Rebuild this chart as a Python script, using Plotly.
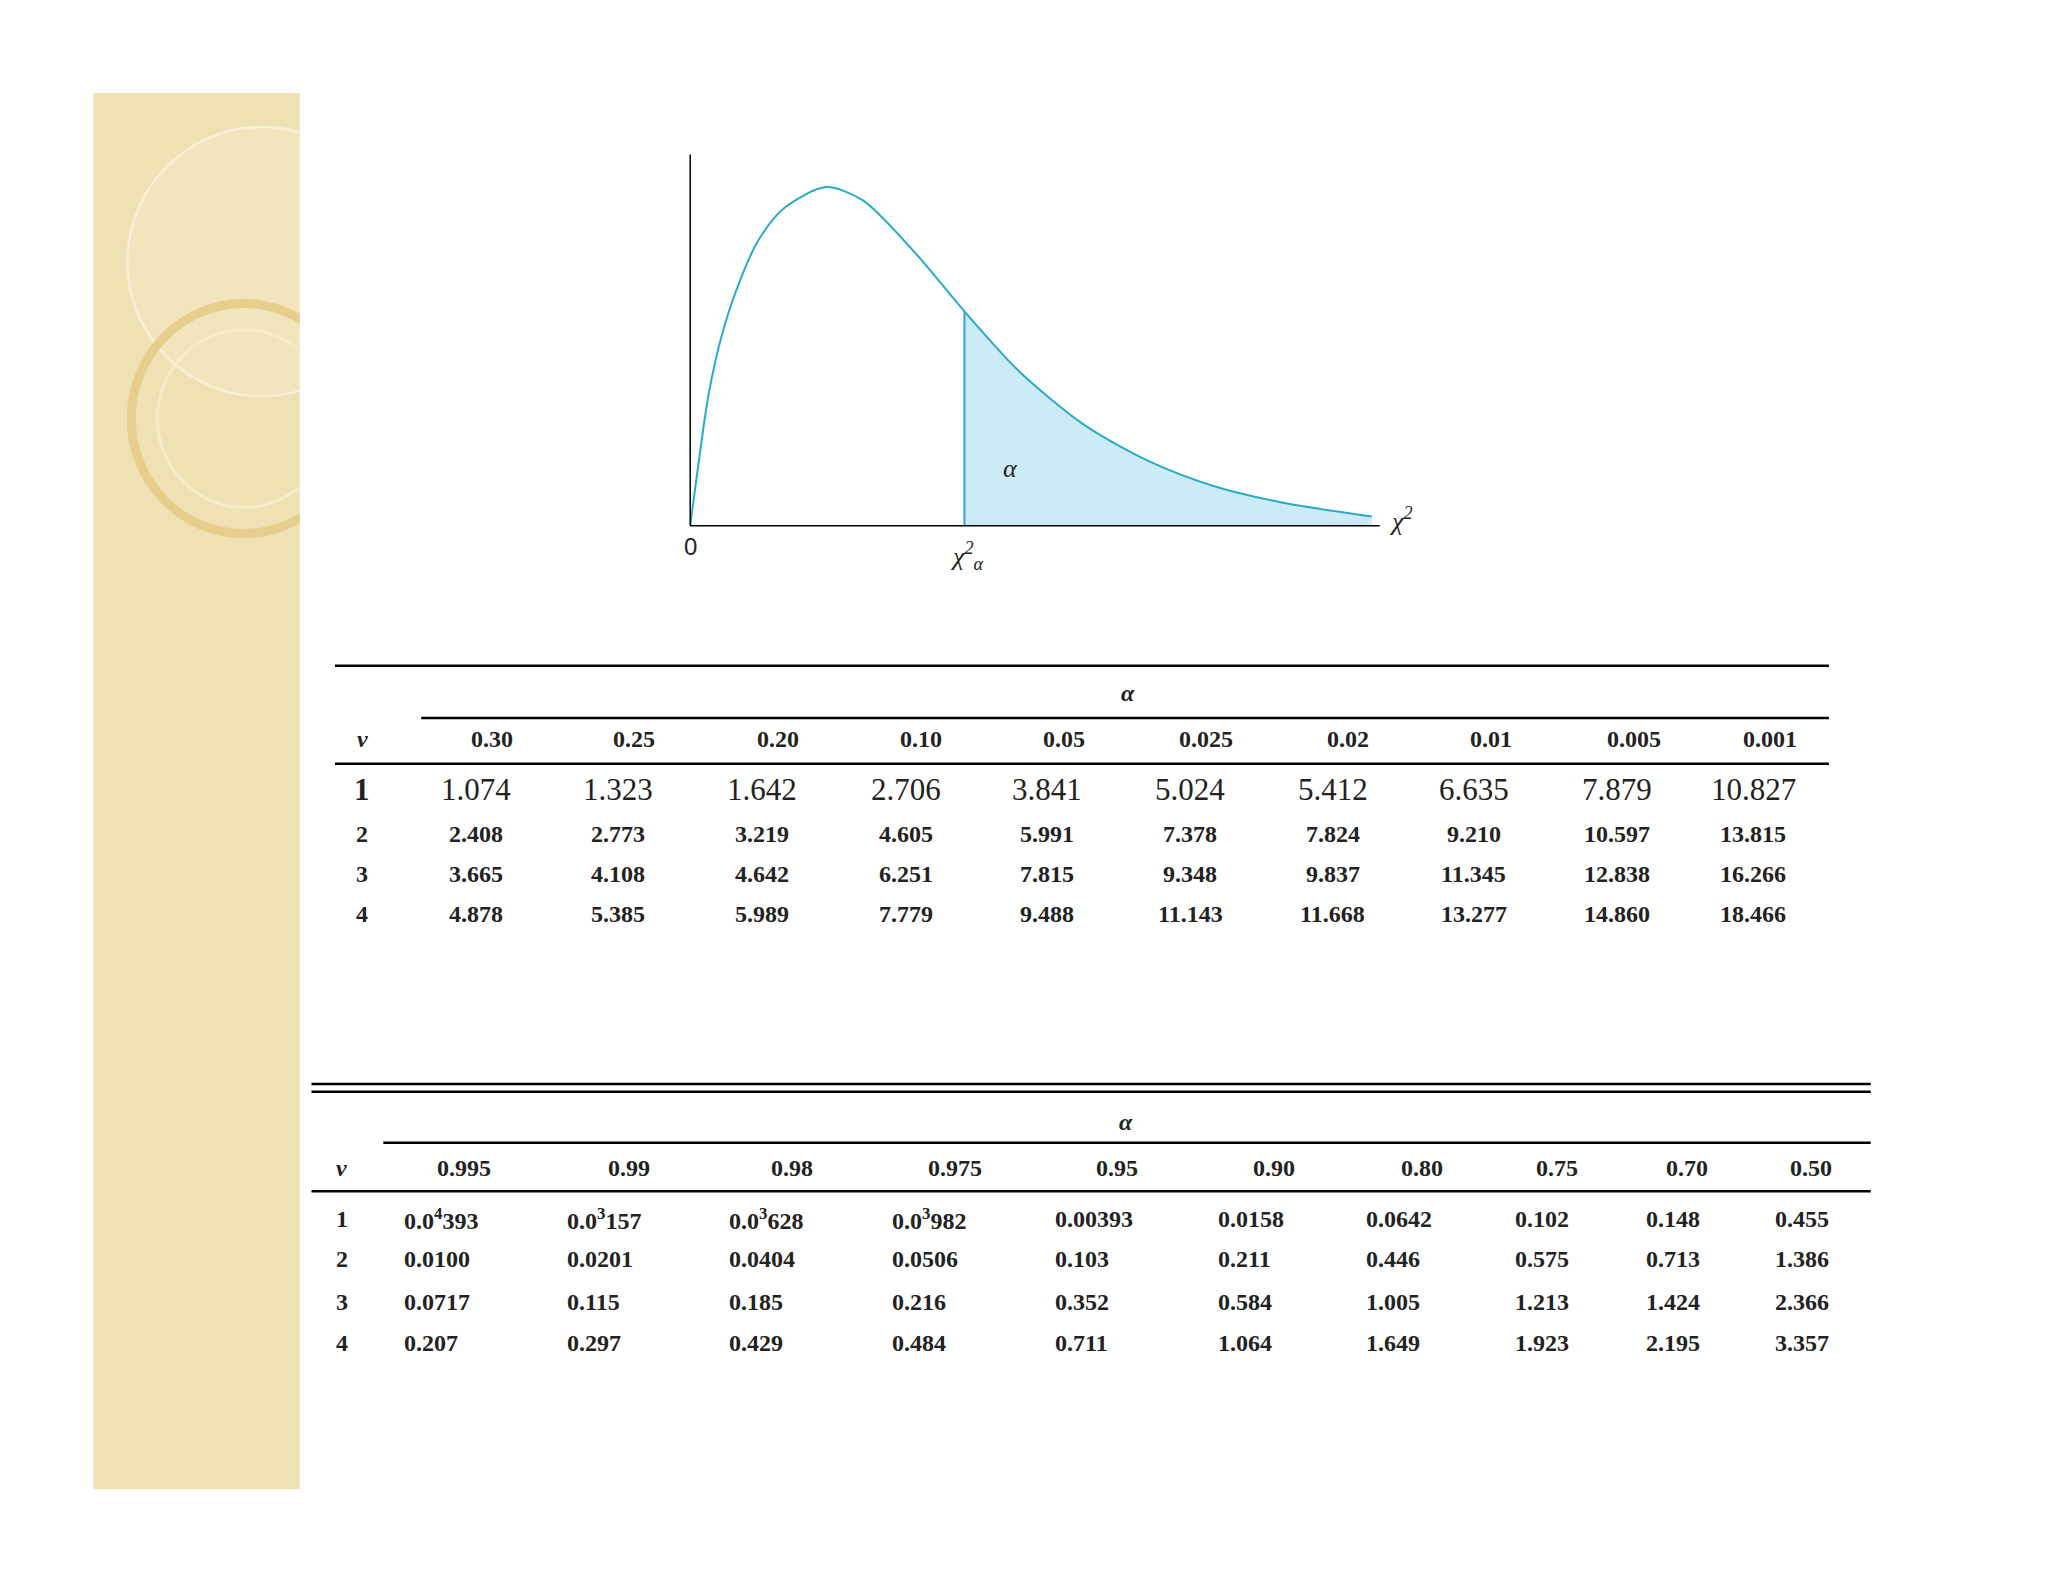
import plotly.graph_objects as go

W0, H0 = 1560, 1210  # reference layout units
def px(x): return ((x - 5.6) / 1.0053) / W0
def py(y): return 1 - (y - 6) / H0

# density curve (x offset, height) in layout units
curve_x = [0, 6, 14, 24, 36, 52, 72, 104, 132, 172, 210, 252, 302, 352, 402, 452, 522]
curve_y = [0, 45, 100, 145, 182, 218, 243, 259, 249, 209, 164, 118, 77, 49, 30, 18, 7]
crit_x = 210

alpha_hi = ["0.30", "0.25", "0.20", "0.10", "0.05", "0.025", "0.02", "0.01", "0.005", "0.001"]
tab1 = [
    ["1.074", "1.323", "1.642", "2.706", "3.841", "5.024", "5.412", "6.635", "7.879", "10.827"],
    ["2.408", "2.773", "3.219", "4.605", "5.991", "7.378", "7.824", "9.210", "10.597", "13.815"],
    ["3.665", "4.108", "4.642", "6.251", "7.815", "9.348", "9.837", "11.345", "12.838", "16.266"],
    ["4.878", "5.385", "5.989", "7.779", "9.488", "11.143", "11.668", "13.277", "14.860", "18.466"],
]
alpha_lo = ["0.995", "0.99", "0.98", "0.975", "0.95", "0.90", "0.80", "0.75", "0.70", "0.50"]
tab2 = [
    ["0.0<sup>4</sup>393", "0.0<sup>3</sup>157", "0.0<sup>3</sup>628", "0.0<sup>3</sup>982", "0.00393", "0.0158", "0.0642", "0.102", "0.148", "0.455"],
    ["0.0100", "0.0201", "0.0404", "0.0506", "0.103", "0.211", "0.446", "0.575", "0.713", "1.386"],
    ["0.0717", "0.115", "0.185", "0.216", "0.352", "0.584", "1.005", "1.213", "1.424", "2.366"],
    ["0.207", "0.297", "0.429", "0.484", "0.711", "1.064", "1.649", "1.923", "2.195", "3.357"],
]
nu = ["1", "2", "3", "4"]

fig = go.Figure()
LINE = "#2aaacb"
FILL = "#cdeaf7"
fx = [x for x in curve_x if x >= crit_x]
fy = [y for x, y in zip(curve_x, curve_y) if x >= crit_x]
fig.add_trace(go.Scatter(x=fx, y=fy, mode="lines", fill="tozeroy", fillcolor=FILL,
                         line=dict(width=0, shape="spline"), hoverinfo="skip"))
fig.add_trace(go.Scatter(x=curve_x, y=curve_y, mode="lines", line=dict(color=LINE, width=2, shape="spline", smoothing=0.8),
                         hoverinfo="skip"))
fig.add_trace(go.Scatter(x=[crit_x, crit_x], y=[0, curve_y[curve_x.index(crit_x)]], mode="lines",
                         line=dict(color=LINE, width=2), hoverinfo="skip"))
fig.add_trace(go.Scatter(x=[100], y=[100], xaxis="x3", yaxis="y3", mode="markers", marker=dict(opacity=0)))

shapes = []
shapes.append(dict(type="rect", xref="paper", yref="paper", x0=px(71), x1=px(229), y0=py(1139), y1=py(71),
                   fillcolor="#efe1b3", line=dict(width=0), layer="below"))
shapes.append(dict(type="circle", xref="x3", yref="y3", x0=97, x1=303, y0=97, y1=303,
                   line=dict(color="#f8f0d6", width=2.5), fillcolor="rgba(248,240,214,0.3)"))
shapes.append(dict(type="circle", xref="x3", yref="y3", x0=100, x1=272, y0=232, y1=408,
                   line=dict(color="#e6cf8c", width=9)))
shapes.append(dict(type="circle", xref="x3", yref="y3", x0=120, x1=253, y0=252, y1=388,
                   line=dict(color="#f6ecc9", width=3)))
shapes.append(dict(type="line", xref="paper", yref="paper", x0=px(528), x1=px(528), y0=py(402), y1=py(118),
                   line=dict(color="black", width=1.5)))
shapes.append(dict(type="line", xref="paper", yref="paper", x0=px(528), x1=px(1056), y0=py(402), y1=py(402),
                   line=dict(color="black", width=1.5)))
def hl(y, x0, x1, w=2.5):
    shapes.append(dict(type="line", xref="paper", yref="paper", x0=px(x0), x1=px(x1), y0=py(y), y1=py(y),
                       line=dict(color="black", width=w)))
hl(509, 256, 1400); hl(549, 322, 1400); hl(584, 256, 1400)
hl(829, 238, 1432); hl(835, 238, 1432); hl(874, 293, 1432); hl(911, 238, 1432)

ann = []
def T(x, y, s, size=23, anchor="center", family="Liberation Serif", bold=True, italic=False):
    t = s
    if bold: t = "<b>" + t + "</b>"
    if italic: t = "<i>" + t + "</i>"
    ann.append(dict(xref="paper", yref="paper", x=px(x), y=py(y), text=t, showarrow=False,
                    xanchor=anchor, yanchor="middle", font=dict(family=family, size=size, color="#222")))

T(528, 418, "0", size=24, family="Liberation Sans", bold=False)
T(740, 425, "χ<sup>2</sup><sub>α</sub>", size=26, bold=False, italic=True)
T(773, 358, "α", size=26, bold=False, italic=True)
T(1072, 397, "χ<sup>2</sup>", size=26, bold=False, italic=True)

T(863, 530, "α", size=24, italic=True)
T(277, 565, "ν", size=24, italic=True)
c1 = [376, 485, 595, 705, 814, 923, 1032, 1141, 1251, 1355]
v1 = [364, 473, 583, 693, 801, 911, 1020, 1128, 1238, 1342]
for x, a in zip(c1, alpha_hi): T(x, 565, a, size=24)
rows1 = [604, 638, 668, 699]
for r, (y, row) in enumerate(zip(rows1, tab1)):
    sz = 31 if r == 0 else 24
    T(277, y, nu[r], size=sz)
    for x, v in zip(v1, row): T(x, y, v, size=sz, bold=(r != 0))

T(862, 858, "α", size=24, italic=True)
T(261, 893, "ν", size=24, italic=True)
c2 = [355, 481, 606, 731, 855, 975, 1088, 1192, 1291, 1386]
v2 = [307, 432, 556, 681, 806, 931, 1044, 1158, 1258, 1357]
for x, a in zip(c2, alpha_lo): T(x, 893, a, size=24)
rows2 = [932, 963, 996, 1027]
for r, (y, row) in enumerate(zip(rows2, tab2)):
    T(261, y, nu[r], size=24)
    for x, v in zip(v2, row): T(x, y, v, size=24, anchor="left")

fig.update_layout(
    width=2048, height=1582, margin=dict(l=0, r=0, t=0, b=0),
    paper_bgcolor="white", plot_bgcolor="rgba(0,0,0,0)", showlegend=False,
    xaxis=dict(domain=[px(528), px(1050)], range=[0, 522], visible=False, fixedrange=True),
    yaxis=dict(domain=[py(402), py(118)], range=[0, 284], visible=False, fixedrange=True),
    xaxis3=dict(domain=[px(71), px(229)], range=[71, 229], visible=False, anchor="y3"),
    yaxis3=dict(domain=[py(1139), py(71)], range=[1139, 71], visible=False, anchor="x3"),
    shapes=shapes, annotations=ann,
)
fig.write_html("out.html")
